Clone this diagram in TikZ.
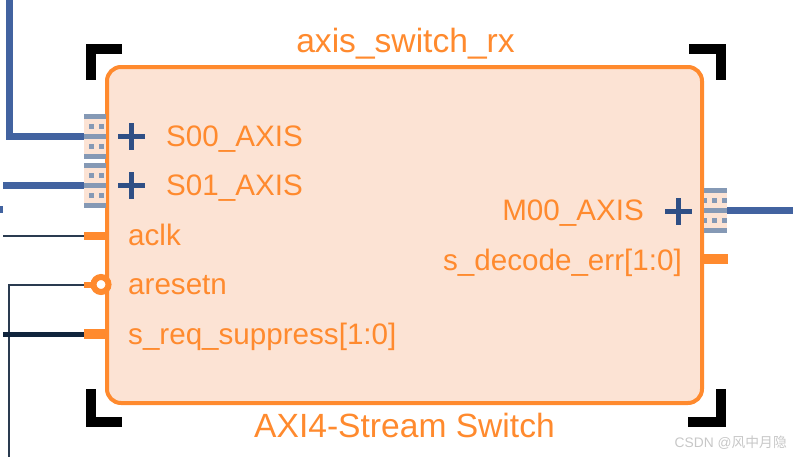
\documentclass[tikz,border=0pt]{standalone}
\usepackage{fontspec}
\setmainfont{Liberation Sans}
\newfontfamily\cjkfont{Noto Sans CJK SC}
\definecolor{blockorange}{HTML}{FF8A2E}
\definecolor{blockfill}{HTML}{FCE3D4}
\definecolor{axisblue}{HTML}{4263A0}
\definecolor{plusblue}{HTML}{2F4F85}
\definecolor{stripeblue}{HTML}{8599B5}
\definecolor{wiredark}{HTML}{2A3B50}
\definecolor{wirenavy}{HTML}{10243C}
\tikzset{
  portlabel/.style={anchor=base west,inner sep=0,text=blockorange,font=\fontsize{29.6}{34}\selectfont},
  portlabelr/.style={portlabel,anchor=base east},
  titlelabel/.style={anchor=base,inner sep=0,text=blockorange,font=\fontsize{33.6}{38}\selectfont},
  ifacebox/.style={inner sep=0,minimum width=22,minimum height=45,fill=blockfill},
  stubbox/.style={inner sep=0,fill=blockorange},
  axiswire/.style={axisblue,line width=7},
  thinwire/.style={wiredark,line width=2},
  corner/.style={line width=10,line join=miter}
}
\begin{document}
\begin{tikzpicture}[x=1pt,y=-1pt]
      \path[use as bounding box] (0,0) rectangle (793,456);
      % free wire ends
      \coordinate (s00top) at (9.5,-4);
      \coordinate (s01end) at (3,185.5);
      \coordinate (stubleft) at (0,209.5);
      \coordinate (stubright) at (3,209.5);
      \coordinate (m00end) at (793,210.5);
      \coordinate (aclkend) at (3,235.5);
      \coordinate (arstbottom) at (9,460);
      \coordinate (sreqend) at (3,334);
      % block
      \node[draw=blockorange,fill=blockfill,line width=4,rounded corners=14,inner sep=0,
        minimum width=595,minimum height=336] (switch) at (404.5,235) {};
      \foreach \a/\b/\c in {122/48.5/90.5,689/48.5/720.5}{
        \draw[corner] (\a,\b) -- (\c,\b) -- (\c,80);
      }
      \draw[corner] (90.5,389) -- (90.5,421.5) -- (122,421.5);
      \draw[corner] (720.5,389) -- (720.5,421.5) -- (688,421.5);
      % left bus ports
      \foreach \y/\name in {136.5/s00,185.5/s01}{
        \node[ifacebox] (\name port) at (95,\y) {};
        \foreach \d in {-20,0,20}{
          \fill[stripeblue] (84,\y+\d-2.5) rectangle (106,\y+\d+2.5);
        }
        \foreach \d in {-10,10}{
          \fill[stripeblue] (89,\y+\d-2.5) rectangle (94,\y+\d+2.5);
          \fill[stripeblue] (99,\y+\d-2.5) rectangle (104,\y+\d+2.5);
        }
        \fill[plusblue] (118,\y-2.5) rectangle (145,\y+2.5);
        \fill[plusblue] (129,\y-13.5) rectangle (134,\y+13.5);
      }
      % right bus port
      \node[ifacebox,minimum width=23] (m00port) at (715.5,210.5) {};
      \foreach \d in {-20,0,20}{
        \fill[stripeblue] (704,210.5+\d-2.5) rectangle (727,210.5+\d+2.5);
      }
      \foreach \d in {-10,10}{
        \fill[stripeblue] (704,210.5+\d-2.5) rectangle (707,210.5+\d+2.5);
        \fill[stripeblue] (712,210.5+\d-2.5) rectangle (717,210.5+\d+2.5);
        \fill[stripeblue] (722,210.5+\d-2.5) rectangle (727,210.5+\d+2.5);
      }
      \fill[plusblue] (665,208.5) rectangle (692,213.5);
      \fill[plusblue] (676,197.5) rectangle (681,224.5);
      % single pins
      \node[stubbox,minimum width=22,minimum height=8] (aclkpin) at (95,235.5) {};
      \node[stubbox,minimum width=8,minimum height=6] (arstpin) at (88,284.5) {};
      \node[circle,draw=blockorange,fill=white,line width=6,inner sep=0,minimum size=15] (arstring) at (101,284.5) {};
      \node[stubbox,minimum width=22,minimum height=10] (sreqpin) at (95,334) {};
      \node[stubbox,minimum width=24,minimum height=10] (decodepin) at (716,259) {};
      % connectors
      \draw[axiswire] (s00port.west) -| (s00top);
      \draw[axiswire] (s01port.west) -- (s01end);
      \draw[axiswire] (stubleft) -- (stubright);
      \draw[axiswire] (m00port.east) -- (m00end);
      \draw[thinwire] (aclkpin.west) -- (aclkend);
      \draw[thinwire] (arstpin.west) -| (arstbottom);
      \draw[wirenavy,line width=5] (sreqpin.west) -- (sreqend);
      % labels
      \node[portlabel] (s00label) at (166,146) {S00\_AXIS};
      \node[portlabel] (s01label) at (166,195.5) {S01\_AXIS};
      \node[portlabel] (aclklabel) at (128,245) {aclk};
      \node[portlabel] (arstlabel) at (128,294.5) {aresetn};
      \node[portlabel] (sreqlabel) at (128,344) {s\_req\_suppress[1:0]};
      \node[portlabelr] (m00label) at (644,220) {M00\_AXIS};
      \node[portlabelr] (decodelabel) at (682,270) {s\_decode\_err[1:0]};
      \node[titlelabel] (titletop) at (405.5,52) {axis\_switch\_rx};
      \node[titlelabel] (titlebottom) at (404.5,437) {AXI4-Stream Switch};
      \node[anchor=base east,inner sep=0,text=black!22,font=\fontsize{13.8}{16}\selectfont] (mark) at (787,447) {CSDN @{\cjkfont 风中月隐}};
    \end{tikzpicture}
\end{document}
